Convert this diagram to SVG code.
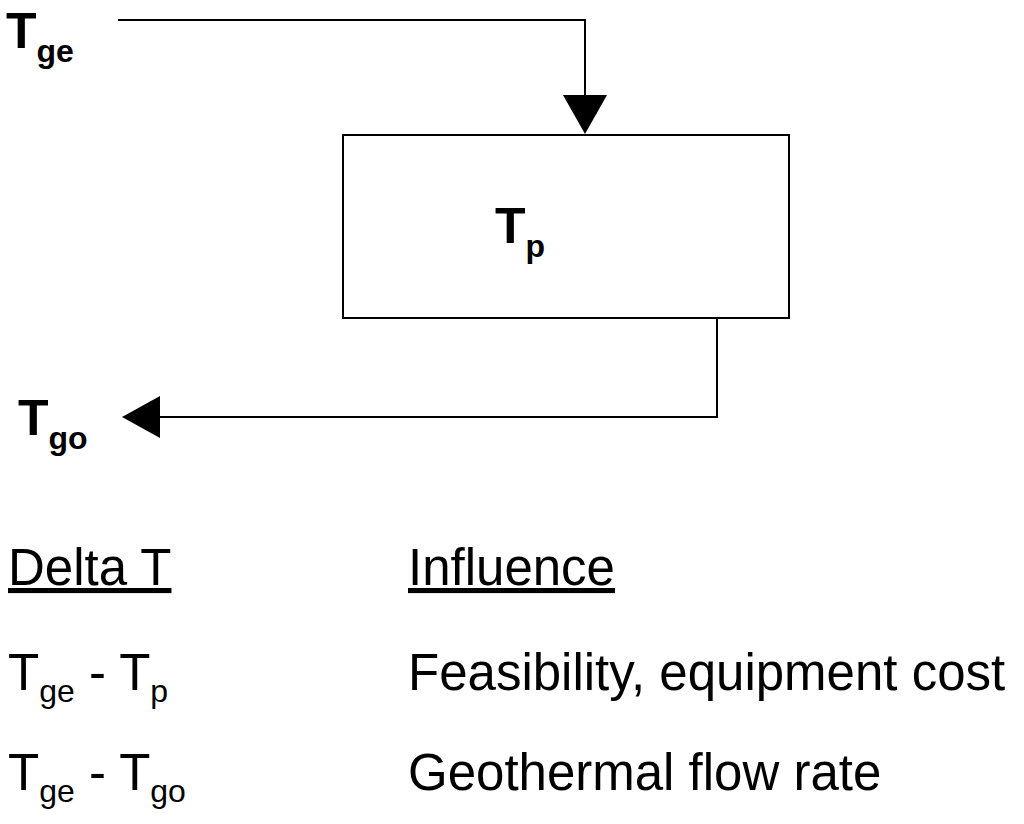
<svg xmlns="http://www.w3.org/2000/svg" width="1024" height="824" viewBox="0 0 1024 824">
<style>
text{font-family:"Liberation Sans",Arial,sans-serif;fill:#000}
.b{font-weight:bold;font-size:50px}
.r{font-size:51px}
.ln{fill:none;stroke:#000;stroke-width:2}
</style>
<rect width="1024" height="824" fill="#fff"/>
<g id="connectors">
<polyline class="ln" points="118,20 585,20 585,100"/>
<polygon points="563,95 607,95 585,134"/>
<polyline class="ln" points="717,316 717,417 155,417"/>
<polygon points="160,396 160,438 122,417"/>
</g>
<g id="Tge"><text class="b" x="6" y="48">T<tspan font-size="32" dy="14">ge</tspan></text></g>
<g id="Tp"><rect x="343" y="135" width="446" height="183" fill="#fff" stroke="#000" stroke-width="2"/>
<text class="b" x="495" y="243">T<tspan font-size="32" dy="14">p</tspan></text></g>
<g id="Tgo"><text class="b" x="18" y="435">T<tspan font-size="32" dy="14">go</tspan></text></g>
<g id="table">
<text class="r" x="8" y="585" text-decoration="underline">Delta T</text>
<text class="r" x="408" y="585" text-decoration="underline">Influence</text>
<text class="r" x="8" y="690">T<tspan font-size="32" dy="12">ge</tspan><tspan dy="-12"> - T</tspan><tspan font-size="32" dy="12">p</tspan></text>
<text class="r" x="408" y="690">Feasibility, equipment cost</text>
<text class="r" x="8" y="790">T<tspan font-size="32" dy="12">ge</tspan><tspan dy="-12"> - T</tspan><tspan font-size="32" dy="12">go</tspan></text>
<text class="r" x="408" y="790">Geothermal flow rate</text>
</g>
</svg>
